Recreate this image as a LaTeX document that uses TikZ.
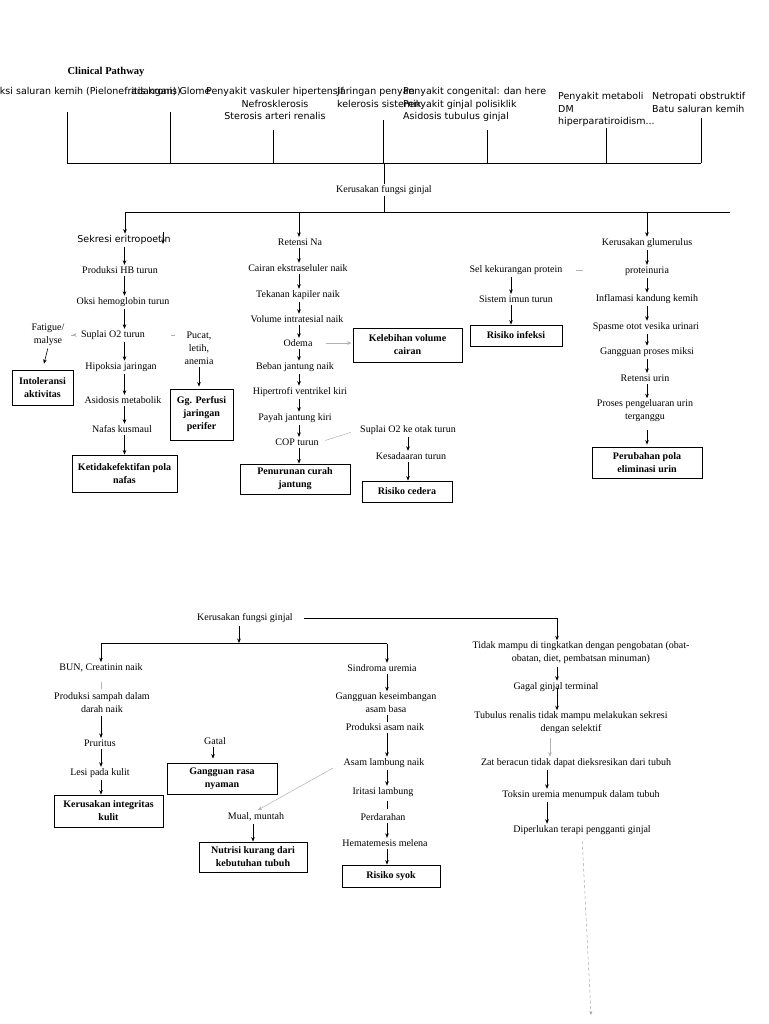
\documentclass[tikz,border=0pt]{standalone}
\usepackage{fontspec}
\setmainfont{Liberation Serif}
\newfontfamily\sansfnt{DejaVu Sans}
\usetikzlibrary{arrows.meta}
\newcommand\vconn[4][arr]{\draw[#1] (#2.south -| #4) -- (#3.north -| #4);}
\begin{document}
\begin{tikzpicture}[x=1pt,y=-1pt,
  txt/.style={font=\fontsize{10}{13}\selectfont, inner sep=1.5pt, align=center},
  lab/.style={font=\sansfnt\fontsize{9.5}{12.5}\selectfont, inner sep=0pt, align=left},
  labc/.style={lab, align=center},
  box/.style={draw, line width=0.9pt, font=\bfseries\fontsize{10}{13}\selectfont, align=center, inner sep=1pt},
  arr/.style={-{Stealth[length=4.5pt,width=3.6pt]}, line width=0.6pt, shorten <=1pt},
  gline/.style={line width=0.5pt, gray!60},
  garr/.style={gline, -{Stealth[length=4.5pt,width=3.6pt]}},
  plain/.style={line width=0.6pt},
  ln/.style={line width=0.9pt}
]
\useasboundingbox (0,0) rectangle (768,1024);
\fill[white] (0,0) rectangle (768,1024);
\clip (0,0) rectangle (768,1024);

% ---------- top ----------
\node[font=\bfseries\fontsize{10.5}{12}\selectfont, inner sep=0pt] (title) at (106,72) {Clinical Pathway};
\node[lab, anchor=north east] (c1) at (181,87.3) {Infeksi saluran kemih (Pielonefritis kronis)};
\node[lab, anchor=north west] (c2) at (131,87.3) {adangan) Glome};
\node[labc, anchor=north] (c3) at (275,87.3) {Penyakit vaskuler hipertensif\\Nefrosklerosis\\Sterosis arteri renalis};
\node[lab, anchor=north west] (c4) at (337,87.3) {Jaringan penyan\\kelerosis sistemik};
\node[lab, anchor=north west] (c5) at (403,87.3) {Penyakit congenital: dan here\\Penyakit ginjal polisiklik\\Asidosis tubulus ginjal};
\node[lab, anchor=north west] (c6) at (558,92.3) {Penyakit metaboli\\DM\\hiperparatiroidism...};
\node[lab, anchor=north west] (c7) at (652,92.3) {Netropati obstruktif\\Batu saluran kemih};

\coordinate (barL) at (67,163);
\coordinate (barR) at (701,163);
\draw[ln] (barL) -- (barR);
\foreach \x/\t in {67/112,170/112,273/130,383/120,487/130,606/128,701/118}
  \draw[ln] (\x,\t) -- (\x,163);

\node[txt] (k1) at (384,190) {Kerusakan fungsi ginjal};
\coordinate (bar1) at (384,163);
\draw[ln] (bar1) -- (k1.north);
\coordinate (hL) at (125,212);
\coordinate (hR) at (730,212);
\draw[ln] (k1.south) -- (k1.south |- hL);
\draw[ln] (hL) -- (hR);

\coordinate (colA) at (124.5,0);
\coordinate (colB) at (299,0);
\coordinate (colC) at (408,0);
\coordinate (colD) at (647,0);
\coordinate (colE) at (511,0);

% ---------- column A ----------
\node[lab, inner sep=1.5pt] (sek) at (124,240) {Sekresi eritropoetin};
\node[txt] (phb) at (120,270) {Produksi HB turun};
\node[txt] (oksi) at (123,302) {Oksi hemoglobin turun};
\node[txt] (supl) at (113,335) {Suplai O2 turun};
\node[txt] (hipo) at (121,367) {Hipoksia jaringan};
\node[txt] (asid) at (123,400) {Asidosis metabolik};
\node[txt] (nafas) at (122,429) {Nafas kusmaul};
\node[box, minimum width=105pt, minimum height=37pt] (ket) at (124.5,473.5) {Ketidakefektifan pola\\nafas};
\node[txt] (fat) at (48,335) {Fatigue/\\malyse};
\node[box, minimum width=61pt, minimum height=35pt] (intol) at (42.5,387.5) {Intoleransi\\aktivitas};
\node[txt] (pucat) at (199,348) {Pucat,\\letih,\\anemia};
\node[box, minimum width=63pt, minimum height=51pt] (perf) at (201.5,414.5) {Gg. Perfusi\\jaringan\\perifer};

\draw[arr] (hL) -- (sek.north -| hL);
\coordinate (sa1) at (163,231);
\coordinate (sa2) at (163,244);
\draw[arr] (sa1) -- (sa2);
\vconn{sek}{phb}{colA}
\vconn{phb}{oksi}{colA}
\vconn{oksi}{supl}{colA}
\vconn{supl}{hipo}{colA}
\vconn{hipo}{asid}{colA}
\vconn{asid}{nafas}{colA}
\vconn{nafas}{ket}{colA}
\draw[garr, shorten <=8pt, shorten >=6pt] (supl.west) -- (fat.east |- supl.west);
\draw[arr, shorten >=6pt] (fat.south) -- (intol.north);
\draw[gline, shorten <=28pt, shorten >=12pt] (supl.east) -- (pucat.west |- supl.east);
\draw[arr, shorten >=2pt] (pucat.south) -- (perf.north -| pucat.south);

% ---------- column B ----------
\node[txt] (ret) at (300,242) {Retensi Na};
\node[txt] (cair) at (298,268) {Cairan ekstraseluler naik};
\node[txt] (tek) at (298,295) {Tekanan kapiler naik};
\node[txt] (vol) at (297,319) {Volume intratesial naik};
\node[txt] (ode) at (298,343) {Odema};
\node[txt] (beban) at (295,367) {Beban jantung naik};
\node[txt] (hip) at (300,392) {Hipertrofi ventrikel kiri};
\node[txt] (payah) at (295,418) {Payah jantung kiri};
\node[txt] (cop) at (297,442) {COP turun};
\node[box, minimum width=110pt, minimum height=30pt] (pcj) at (295,479) {Penurunan curah\\jantung};
\node[box, minimum width=109pt, minimum height=34pt] (kvc) at (407.5,345) {Kelebihan volume\\cairan};
\node[txt] (otak) at (408,430) {Suplai O2 ke otak turun};
\node[txt] (kes) at (411,456) {Kesadaaran turun};
\node[box, minimum width=90pt, minimum height=21pt] (rc) at (407,491.5) {Risiko cedera};

\draw[arr] (hL -| colB) -- (ret.north -| colB);
\vconn{ret}{cair}{colB}
\vconn{cair}{tek}{colB}
\vconn{tek}{vol}{colB}
\vconn{vol}{ode}{colB}
\vconn{ode}{beban}{colB}
\vconn{beban}{hip}{colB}
\vconn{hip}{payah}{colB}
\vconn{payah}{cop}{colB}
\vconn{cop}{pcj}{colB}
\draw[garr, shorten <=12pt, shorten >=1pt] (ode.east) -- (kvc.west |- ode.east);
\draw[gline, shorten <=5pt, shorten >=8pt] (cop.east) -- (otak.west);
\vconn{otak}{kes}{colC}
\vconn{kes}{rc}{colC}

% ---------- column D / E ----------
\node[txt] (glu) at (647,243) {Kerusakan glumerulus};
\node[txt] (prot) at (647,271) {proteinuria};
\node[txt] (infl) at (647,299) {Inflamasi kandung kemih};
\node[txt] (spas) at (646,327) {Spasme otot vesika urinari};
\node[txt] (gang) at (647,352) {Gangguan proses miksi};
\node[txt] (ret2) at (645,378) {Retensi urin};
\node[txt] (pros) at (645,411) {Proses pengeluaran urin\\terganggu};
\node[box, minimum width=110pt, minimum height=31pt] (ppe) at (647,462.5) {Perubahan pola\\eliminasi urin};
\node[txt] (sel) at (516,270) {Sel kekurangan protein};
\node[txt] (sis) at (516,299) {Sistem imun turun};
\node[box, minimum width=92pt, minimum height=21pt] (ri) at (516,335.5) {Risiko infeksi};

\draw[arr] (hL -| colD) -- (glu.north -| colD);
\vconn{glu}{prot}{colD}
\vconn{prot}{infl}{colD}
\vconn{infl}{spas}{colD}
\vconn{spas}{gang}{colD}
\vconn{gang}{ret2}{colD}
\vconn{ret2}{pros}{colD}
\draw[arr, shorten <=6pt, shorten >=2pt] (pros.south -| colD) -- (ppe.north -| colD);
\draw[gline, shorten <=12pt, shorten >=40pt] (sel.east) -- (prot.west |- sel.east);
\vconn{sel}{sis}{colE}
\vconn{sis}{ri}{colE}

% ---------- bottom ----------
\coordinate (colF) at (557,0);
\coordinate (colK) at (239,0);
\coordinate (colL) at (101,0);
\coordinate (colM) at (387,0);
\coordinate (colN) at (253,0);
\coordinate (colG) at (213,0);
\coordinate (colR) at (547,0);
\coordinate (colS) at (550,0);
\coordinate (b2L) at (101,643);
\coordinate (b2R) at (387,643);

\node[txt] (k2) at (245,618) {Kerusakan fungsi ginjal};

% right bottom
\node[txt] (tid) at (581,653) {Tidak mampu di tingkatkan dengan pengobatan (obat-\\obatan, diet, pembatsan minuman)};
\node[txt] (gag) at (556,687) {Gagal ginjal terminal};
\node[txt] (tub) at (571,723) {Tubulus renalis tidak mampu melakukan sekresi\\dengan selektif};
\node[txt] (zat) at (576,763) {Zat beracun tidak dapat dieksresikan dari tubuh};
\node[txt] (tok) at (581,795) {Toksin uremia menumpuk dalam tubuh};
\node[txt] (dip) at (582,830) {Diperlukan terapi pengganti ginjal};
\coordinate (endp) at (591,1015);

% left bottom
\node[txt] (bun) at (101,668) {BUN, Creatinin naik};
\node[txt] (sam) at (102,703) {Produksi sampah dalam\\darah naik};
\node[txt] (prur) at (100,743) {Pruritus};
\node[txt] (lesi) at (100,773) {Lesi pada kulit};
\node[box, minimum width=109pt, minimum height=32pt] (kik) at (108.5,811) {Kerusakan integritas\\kulit};
\node[txt] (gatal) at (215,741) {Gatal};
\node[box, minimum width=110pt, minimum height=31pt] (grn) at (222,778.5) {Gangguan rasa\\nyaman};

% middle bottom
\node[txt] (sin) at (382,668) {Sindroma uremia};
\node[txt] (gkb) at (386,703) {Gangguan keseimbangan\\asam basa};
\node[txt] (pan) at (385,727) {Produksi asam naik};
\node[txt] (aln) at (384,763) {Asam lambung naik};
\node[txt] (iri) at (383,792) {Iritasi lambung};
\node[txt] (perd) at (383,817) {Perdarahan};
\node[txt] (hem) at (385,843) {Hematemesis melena};
\node[box, minimum width=98pt, minimum height=22pt] (rs) at (391,876) {Risiko syok};
\node[txt] (mual) at (256,817) {Mual, muntah};
\node[box, minimum width=108pt, minimum height=30pt] (nk) at (253,857) {Nutrisi kurang dari\\kebutuhan tubuh};

% connectors bottom
\draw[arr, shorten <=10pt] (k2.east) -- (k2.east -| colF) -- (tid.north -| colF);
\draw[arr, shorten <=2pt] (k2.south -| colK) -- (b2L -| colK);
\draw[ln] (b2L) -- (b2R);
\draw[arr] (b2L) -- (bun.north -| b2L);
\draw[arr] (b2R) -- (sin.north -| b2R);

\draw[arr] (tid.south -| colF) -- (gag.north -| colF);
\draw[arr] (gag.center -| colF) -- (tub.north -| colF);
\draw[garr, shorten <=2pt] (tub.south -| colS) -- (zat.north -| colS);
\vconn{zat}{tok}{colR}
\vconn{tok}{dip}{colR}
\draw[gray!70, line width=0.5pt, dash pattern=on 3pt off 2.5pt, -{Stealth[length=4pt,width=3pt]}, shorten <=5pt] (dip.south) -- (endp);

\draw[gline, shorten <=8pt, shorten >=2pt] (bun.south -| colL) -- (sam.north -| colL);
\vconn{sam}{prur}{colL}
\vconn{prur}{lesi}{colL}
\vconn{lesi}{kik}{colL}
\draw[arr, shorten >=4pt] (gatal.south -| colG) -- (grn.north -| colG);

\vconn{sin}{gkb}{colM}
\vconn[plain]{gkb}{pan}{colM}
\vconn{pan}{aln}{colM}
\vconn{aln}{iri}{colM}
\draw[plain, shorten <=3pt, shorten >=3pt] (iri.south -| colM) -- (perd.north -| colM);
\vconn{perd}{hem}{colM}
\vconn{hem}{rs}{colM}
\draw[garr, shorten <=10pt, shorten >=2pt] (aln.west) -- (mual.north);
\vconn{mual}{nk}{colN}
\end{tikzpicture}
\end{document}
